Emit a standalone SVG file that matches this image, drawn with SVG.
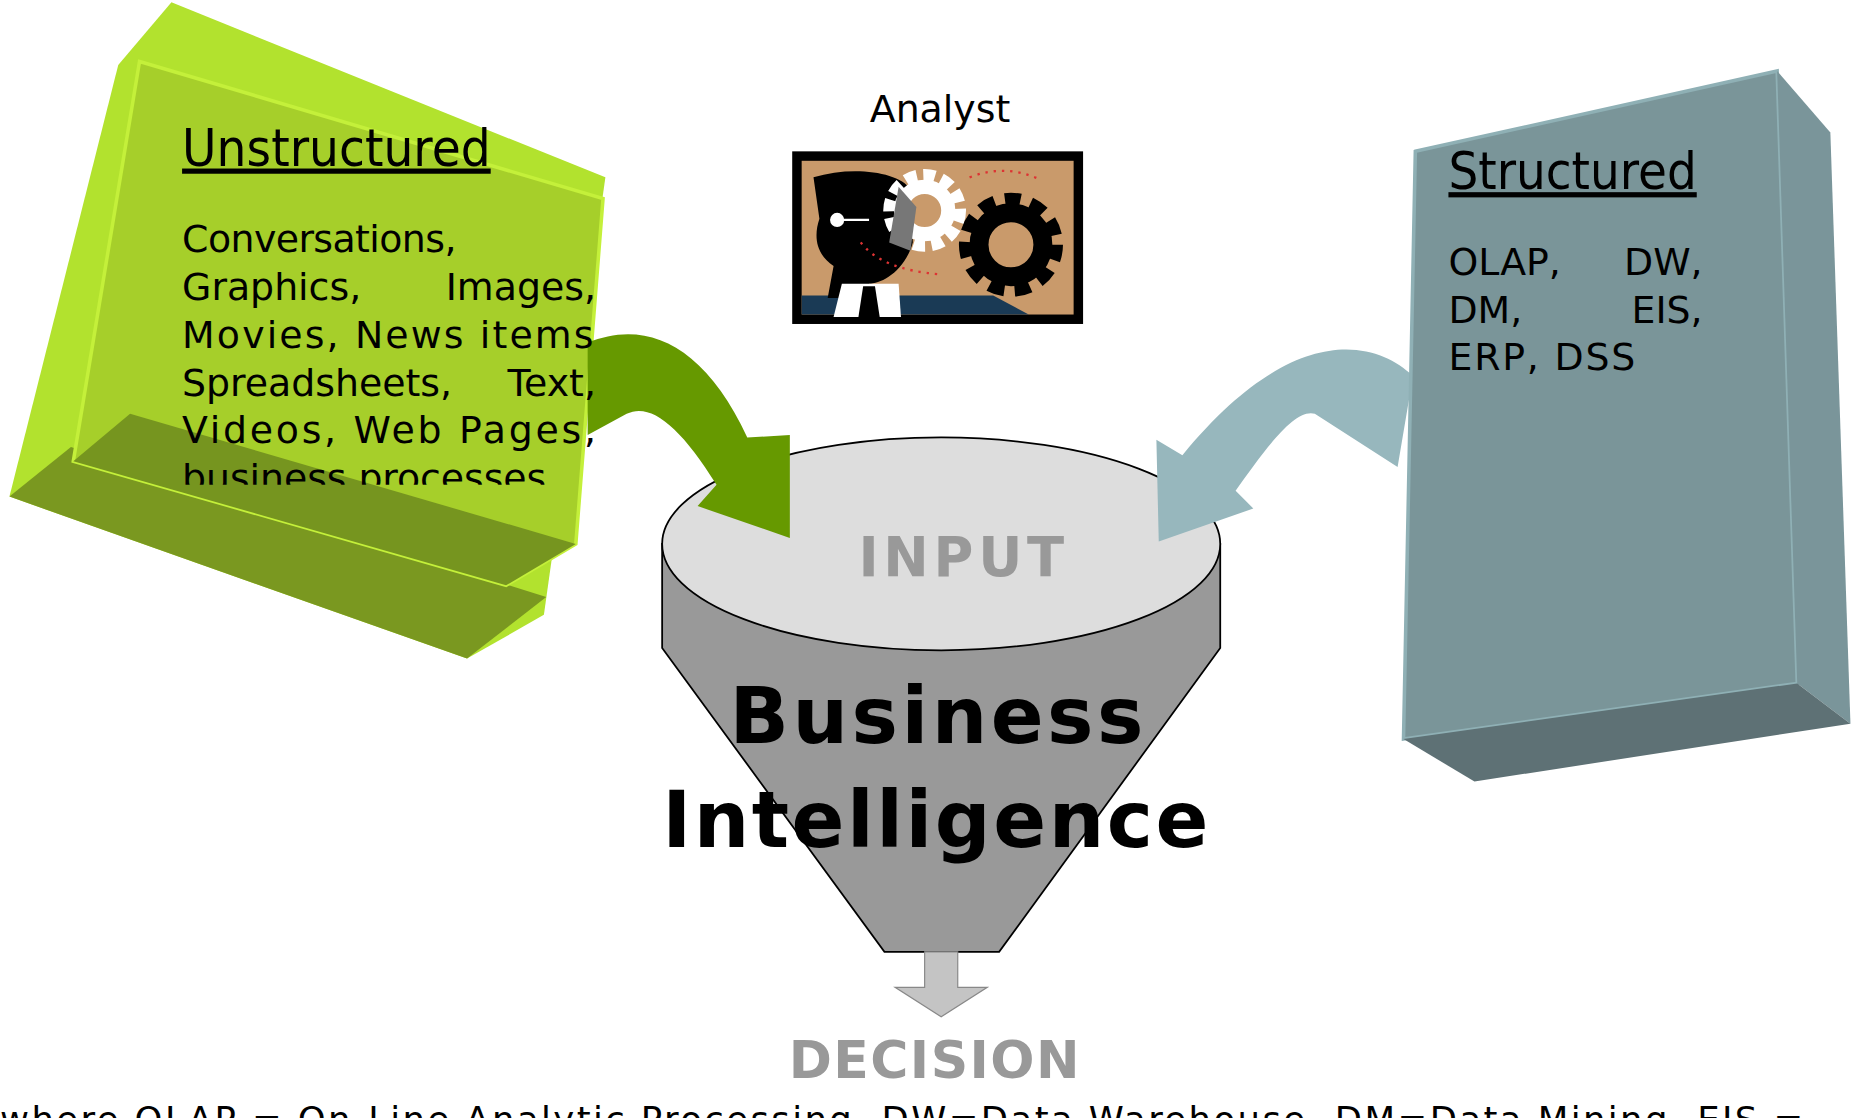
<svg xmlns="http://www.w3.org/2000/svg" width="1854" height="1118" viewBox="0 0 1854 1118">
<defs>
<style>
.t{font-family:"DejaVu Sans","Liberation Sans",sans-serif;fill:#000}
.b{font-size:32px}
.h{font-size:44px;text-decoration:underline}
.g{fill:#999;font-weight:bold;letter-spacing:4px}
</style>
<clipPath id="c"><rect x="140" y="170" width="380" height="240"/></clipPath>
</defs>
<rect width="1854" height="1118" fill="#fff"/>
<g transform="scale(1.1824)">
<g id="unstructured">
<polygon points="145,2 512,150 460,520 395,557 8,420 100,55" fill="#b2e22e"/>
<polygon points="8,420 60,378 462,505 395,557" fill="#7a9820"/>
<polygon points="118,52 510,168 487,460 428,495 62,390" fill="#a6cf2a" stroke="#c4f03a" stroke-width="3"/>
<polygon points="62,390 110,350 487,460 428,495" fill="#76951f"/>
<text class="t h" x="154" y="140" textLength="261" lengthAdjust="spacingAndGlyphs">Unstructured</text>
</g>
<g id="funnel">
<polygon points="560,460 560,548 748,805 845,805 1032,548 1032,460" fill="#999" stroke="#000" stroke-width="1.5"/>
<ellipse cx="796" cy="460" rx="236" ry="90" fill="#ddd" stroke="#000" stroke-width="1.5"/>
<text class="t g" x="815" y="487" font-size="46" text-anchor="middle">INPUT</text>
<text class="t" x="617" y="628" font-size="66" font-weight="bold" textLength="350">Business</text>
<text class="t" x="560" y="716" font-size="66" font-weight="bold" textLength="462">Intelligence</text>
</g>
<g id="connectors">
<path d="M497,290 C545,270 595,290 632,370 L668,368 L668,455 L590,428 L606,410 C575,360 550,340 530,350 L497,368 Z" fill="#669900"/>
<path d="M1195,318 C1160,285 1090,275 1000,385 L978,372 L980,458 L1060,430 L1045,415 C1070,380 1095,345 1112,350 L1182,395 Z" fill="#97b7bd"/>
</g>
<g id="unstructured-text" class="t b" clip-path="url(#c)">
<text x="154" y="213" textLength="232">Conversations,</text>
<text y="254"><tspan x="154">Graphics,</tspan><tspan x="504" text-anchor="end">Images,</tspan></text>
<text x="154" y="294" textLength="348">Movies, News items</text>
<text y="335"><tspan x="154">Spreadsheets,</tspan><tspan x="504" text-anchor="end">Text,</tspan></text>
<text x="154" y="375" textLength="350">Videos, Web Pages,</text>
<text x="154" y="415" textLength="308">business processes</text>
</g>
<g id="structured">
<polygon points="1197,128 1503,60 1520,578 1187,625" fill="#7a9599" stroke="#8fb0b5" stroke-width="3"/>
<polygon points="1503,60 1548,112 1565,612 1520,578" fill="#7a959a"/>
<polygon points="1187,625 1520,578 1565,612 1247,661" fill="#5e7175"/>
<text class="t h" x="1225" y="160" textLength="210" lengthAdjust="spacingAndGlyphs">Structured</text>
<g class="t b">
<text y="233"><tspan x="1225">OLAP,</tspan><tspan x="1440" text-anchor="end">DW,</tspan></text>
<text y="273"><tspan x="1225">DM,</tspan><tspan x="1440" text-anchor="end">EIS,</tspan></text>
<text x="1225" y="313" textLength="158">ERP, DSS</text>
</g>
</g>
<g id="decision">
<polygon points="782,805 810,805 810,835 835,835 796,860 757,835 782,835" fill="#c4c4c4" stroke="#888"/>
<text class="t g" x="667" y="912" font-size="44" textLength="250">DECISION</text>
</g>
<g id="analyst">
<text class="t" x="795" y="103" font-size="32" text-anchor="middle">Analyst</text>
<rect x="670" y="128" width="246" height="146" fill="#000"/>
<rect x="678" y="136" width="230" height="130" fill="#c99a6b"/>
<path d="M678,250 L840,250 L870,266 L678,266 Z" fill="#1a3a55"/>
<path d="M688,150 C720,140 760,145 770,160 L772,205 C765,230 745,240 735,240 L735,252 L700,252 L705,225 C690,215 688,200 693,185 Z" fill="#000"/>
<path d="M712,240 L760,240 L762,268 L705,268 Z" fill="#fff"/>
<path d="M730,242 L740,242 L744,268 L726,268 Z" fill="#000"/>
<circle cx="708" cy="186" r="6" fill="#fff"/>
<line x1="708" y1="186" x2="735" y2="186" stroke="#fff" stroke-width="2"/>
<circle cx="782" cy="178" r="27" fill="none" stroke="#fff" stroke-width="16" stroke-dasharray="9 5"/>
<circle cx="782" cy="178" r="20" fill="none" stroke="#fff" stroke-width="12"/>
<path d="M760,158 L775,175 L770,212 L752,205 Z" fill="#777"/>
<circle cx="855" cy="207" r="35" fill="none" stroke="#000" stroke-width="18" stroke-dasharray="12 8"/>
<circle cx="855" cy="207" r="27" fill="none" stroke="#000" stroke-width="16"/>
<path d="M820,150 Q850,138 880,152" fill="none" stroke="#d33" stroke-width="2" stroke-dasharray="2 5"/>
<path d="M728,205 Q745,228 795,232" fill="none" stroke="#d33" stroke-width="2" stroke-dasharray="2 5"/>
</g>
<text class="t" x="0" y="957" font-size="30" textLength="1525" lengthAdjust="spacing">where OLAP = On-Line Analytic Processing, DW=Data Warehouse, DM=Data Mining, EIS =</text>
</g>
</svg>
